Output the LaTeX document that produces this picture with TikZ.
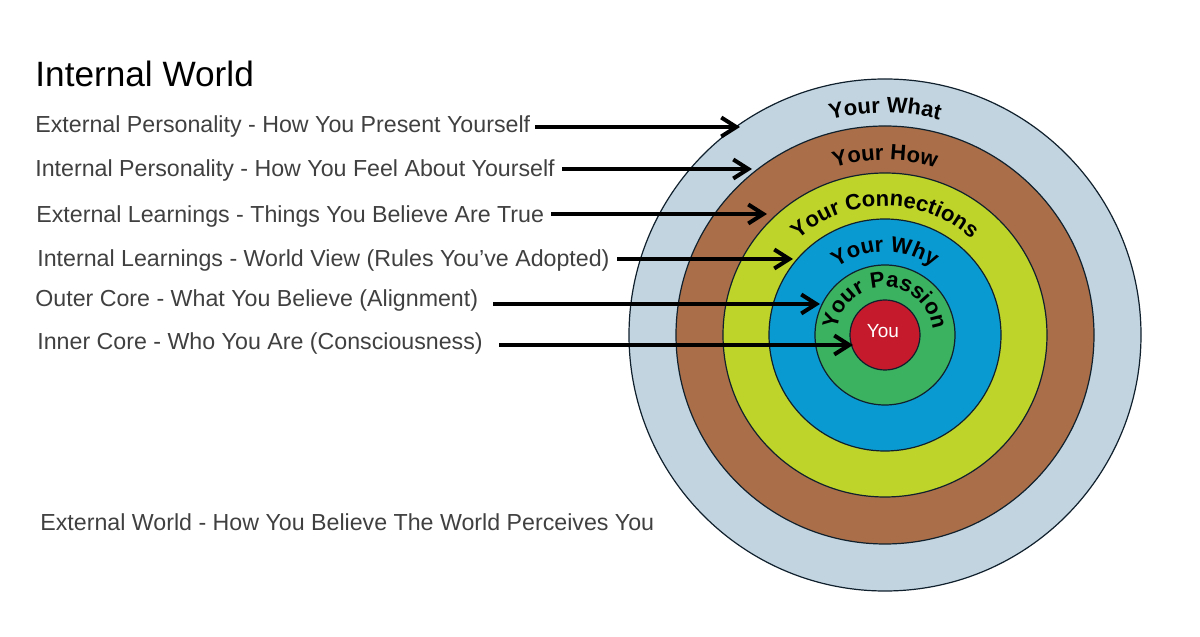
\documentclass[tikz,border=0pt]{standalone}
\usepackage{fontspec}
\setmainfont{Liberation Sans}
\usetikzlibrary{arrows.meta,decorations.text}

\definecolor{ringgray}{RGB}{193,212,223}
\definecolor{ringbrown}{RGB}{170,110,72}
\definecolor{ringlime}{RGB}{190,212,42}
\definecolor{ringblue}{RGB}{10,154,210}
\definecolor{ringgreen}{RGB}{58,178,96}
\definecolor{ringred}{RGB}{196,26,44}
\definecolor{ringline}{RGB}{16,32,44}
\definecolor{labelgray}{RGB}{64,64,64}

\begin{document}
\begin{tikzpicture}[x=0.5pt, y=0.5pt, >={Straight Barb[length=7.5pt,width=9.5pt]},
  lbl/.style={anchor=base west, inner sep=0pt, text=labelgray, font=\fontsize{11.6}{13}\selectfont},
  arr/.style={->, line width=2pt},
  ring/.style={draw=ringline, line width=0.6pt},
  curved/.style={decorate, decoration={text along path, text align=center,
    text={|\bfseries\fontsize{11}{13}\selectfont|#1}}}]
  \useasboundingbox (0,0) rectangle (1200,637);
  \coordinate (c) at (885,302);

  \draw[ring, fill=ringgray]  (c) circle[radius=128pt];
  \draw[ring, fill=ringbrown] (c) circle[radius=104.5pt];
  \draw[ring, fill=ringlime]  (c) circle[radius=81pt];
  \draw[ring, fill=ringblue]  (c) circle[radius=58pt];
  \draw[ring, fill=ringgreen] (c) circle[radius=35pt];
  \draw[ring, fill=ringred]   (c) circle[radius=17.5pt];
  \node[text=white, font=\fontsize{9.5}{11}\selectfont] (you) at (883,306) {You};

  \path[curved=Your What]        (c) ++(180:111pt) arc[start angle=180, end angle=0, radius=111pt];
  \path[curved=Your How]         (c) ++(180:87.5pt) arc[start angle=180, end angle=0, radius=87.5pt];
  \path[curved=Your Connections] (c) ++(180:64.5pt) arc[start angle=180, end angle=0, radius=64.5pt];
  \path[curved=Your Why]         (c) ++(210:41.5pt) arc[start angle=210, end angle=-30, radius=41.5pt];
  \path[curved=Your Passion]     (c) ++(210:24pt) arc[start angle=210, end angle=-30, radius=24pt];

  \node[anchor=base west, inner sep=0pt, font=\fontsize{17.6}{20}\selectfont] (title) at (35,550) {Internal World};
  \node[lbl] (extpers) at (35,504) {External Personality - How You Present Yourself};
  \node[lbl] (intpers) at (35,460) {Internal Personality - How You Feel About Yourself};
  \node[lbl] (extlearn) at (36,414) {External Learnings - Things You Believe Are True};
  \node[lbl] (intlearn) at (37,370) {Internal Learnings - World View (Rules You’ve Adopted)};
  \node[lbl] (outer) at (35,330) {Outer Core - What You Believe (Alignment)};
  \node[lbl] (inner) at (37,287) {Inner Core - Who You Are (Consciousness)};
  \node[lbl] (extworld) at (40,106) {External World - How You Believe The World Perceives You};

  \coordinate (s1) at (535,510); \coordinate (e1) at (740,510);
  \coordinate (s2) at (562,468); \coordinate (e2) at (752,468);
  \coordinate (s3) at (551,423); \coordinate (e3) at (767,423);
  \coordinate (s4) at (617,378); \coordinate (e4) at (793,378);
  \coordinate (s5) at (493,333); \coordinate (e5) at (820,333);
  \coordinate (s6) at (499,292); \coordinate (e6) at (853,292);
  \foreach \i in {1,...,6}
    \draw[arr] (s\i) -- (e\i);
\end{tikzpicture}
\end{document}
